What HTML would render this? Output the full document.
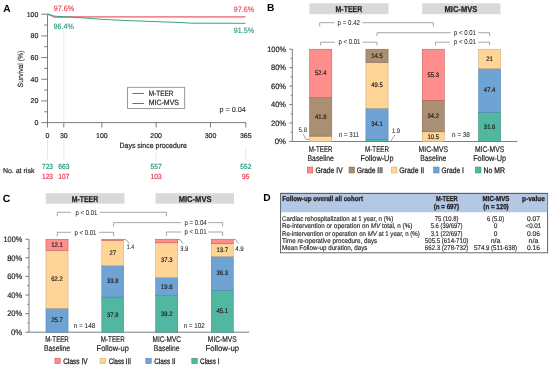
<!DOCTYPE html>
<html><head><meta charset="utf-8"><style>
html,body{margin:0;padding:0;background:#fff;}
svg{display:block;will-change:transform;}
text{font-family:"Liberation Sans", sans-serif;text-rendering:geometricPrecision;}
</style></head><body>
<svg width="550" height="367" viewBox="0 0 550 367">
<rect x="0" y="0" width="550" height="367" fill="#fff"/>
<text x="3.2" y="11.5" font-size="10.2" fill="#000" stroke="#000" stroke-width="0" font-weight="bold">A</text>
<line x1="47.5" y1="14.200000000000003" x2="47.5" y2="122.6" stroke="#6d6e71" stroke-width="0.9"/>
<line x1="41.3" y1="122.6" x2="47.5" y2="122.6" stroke="#6d6e71" stroke-width="0.9"/>
<text x="38.4" y="125.1" font-size="7.0" fill="#231f20" stroke="#231f20" stroke-width="0.2" text-anchor="end">0</text>
<line x1="44.2" y1="111.75999999999999" x2="47.5" y2="111.75999999999999" stroke="#6d6e71" stroke-width="0.9"/>
<line x1="41.3" y1="100.92" x2="47.5" y2="100.92" stroke="#6d6e71" stroke-width="0.9"/>
<text x="38.4" y="103.42" font-size="7.0" fill="#231f20" stroke="#231f20" stroke-width="0.2" text-anchor="end">20</text>
<line x1="44.2" y1="90.08" x2="47.5" y2="90.08" stroke="#6d6e71" stroke-width="0.9"/>
<line x1="41.3" y1="79.24000000000001" x2="47.5" y2="79.24000000000001" stroke="#6d6e71" stroke-width="0.9"/>
<text x="38.4" y="81.74000000000001" font-size="7.0" fill="#231f20" stroke="#231f20" stroke-width="0.2" text-anchor="end">40</text>
<line x1="44.2" y1="68.4" x2="47.5" y2="68.4" stroke="#6d6e71" stroke-width="0.9"/>
<line x1="41.3" y1="57.56" x2="47.5" y2="57.56" stroke="#6d6e71" stroke-width="0.9"/>
<text x="38.4" y="60.06" font-size="7.0" fill="#231f20" stroke="#231f20" stroke-width="0.2" text-anchor="end">60</text>
<line x1="44.2" y1="46.72" x2="47.5" y2="46.72" stroke="#6d6e71" stroke-width="0.9"/>
<line x1="41.3" y1="35.88000000000001" x2="47.5" y2="35.88000000000001" stroke="#6d6e71" stroke-width="0.9"/>
<text x="38.4" y="38.38000000000001" font-size="7.0" fill="#231f20" stroke="#231f20" stroke-width="0.2" text-anchor="end">80</text>
<line x1="44.2" y1="25.040000000000006" x2="47.5" y2="25.040000000000006" stroke="#6d6e71" stroke-width="0.9"/>
<line x1="41.3" y1="14.200000000000003" x2="47.5" y2="14.200000000000003" stroke="#6d6e71" stroke-width="0.9"/>
<text x="38.4" y="16.700000000000003" font-size="7.0" fill="#231f20" stroke="#231f20" stroke-width="0.2" text-anchor="end">100</text>
<line x1="47.5" y1="122.6" x2="245.79999999999998" y2="122.6" stroke="#6d6e71" stroke-width="0.9"/>
<line x1="47.5" y1="122.6" x2="47.5" y2="127.5" stroke="#6d6e71" stroke-width="0.9"/>
<text x="47.5" y="138.0" font-size="7.0" fill="#231f20" stroke="#231f20" stroke-width="0.2" text-anchor="middle">0</text>
<line x1="63.798630136986304" y1="122.6" x2="63.798630136986304" y2="127.5" stroke="#6d6e71" stroke-width="0.9"/>
<text x="63.798630136986304" y="138.0" font-size="7.0" fill="#231f20" stroke="#231f20" stroke-width="0.2" text-anchor="middle">30</text>
<line x1="101.82876712328766" y1="122.6" x2="101.82876712328766" y2="127.5" stroke="#6d6e71" stroke-width="0.9"/>
<text x="101.82876712328766" y="138.0" font-size="7.0" fill="#231f20" stroke="#231f20" stroke-width="0.2" text-anchor="middle">100</text>
<line x1="156.15753424657532" y1="122.6" x2="156.15753424657532" y2="127.5" stroke="#6d6e71" stroke-width="0.9"/>
<text x="156.15753424657532" y="138.0" font-size="7.0" fill="#231f20" stroke="#231f20" stroke-width="0.2" text-anchor="middle">200</text>
<line x1="210.486301369863" y1="122.6" x2="210.486301369863" y2="127.5" stroke="#6d6e71" stroke-width="0.9"/>
<text x="210.486301369863" y="138.0" font-size="7.0" fill="#231f20" stroke="#231f20" stroke-width="0.2" text-anchor="middle">300</text>
<line x1="245.79999999999998" y1="122.6" x2="245.79999999999998" y2="127.5" stroke="#6d6e71" stroke-width="0.9"/>
<text x="245.79999999999998" y="138.0" font-size="7.0" fill="#231f20" stroke="#231f20" stroke-width="0.2" text-anchor="middle">365</text>
<text x="119.5" y="148.2" font-size="7.6" fill="#231f20" stroke="#231f20" stroke-width="0.2" textLength="67.4" lengthAdjust="spacingAndGlyphs">Days since procedure</text>
<text transform="translate(23.4,69) rotate(-90)" font-size="7.6" fill="#231f20" stroke="#231f20" stroke-width="0.15" text-anchor="middle" textLength="36.8" lengthAdjust="spacingAndGlyphs">Survival (%)</text>
<line x1="63.798630136986304" y1="29" x2="63.798630136986304" y2="122.6" stroke="#dedfe0" stroke-width="0.6"/>
<polyline points="47.3,14.4 50,14.9 52,16.0 54.5,17.1 63,17.1 70,16.9 245.5,16.9" fill="none" stroke="#f28a91" stroke-width="1.6"/>
<polyline points="47.3,14.2 50,14.6 52.5,15.6 55,16.2 63.6,16.7 80,17.6 100,19.2 123,20.4 160,21.8 180,22.5 192,23.2 245.5,23.3" fill="none" stroke="#2a9678" stroke-width="0.9"/>
<text x="53.7" y="11.3" font-size="7.8" fill="#e63a4c" stroke="#e63a4c" stroke-width="0.1" textLength="20.6" lengthAdjust="spacingAndGlyphs">97.6%</text>
<text x="53.6" y="29.3" font-size="7.8" fill="#26957a" stroke="#26957a" stroke-width="0.1" textLength="20.3" lengthAdjust="spacingAndGlyphs">96.4%</text>
<text x="233.7" y="12.3" font-size="7.8" fill="#e63a4c" stroke="#e63a4c" stroke-width="0.1" textLength="20.4" lengthAdjust="spacingAndGlyphs">97.6%</text>
<text x="233.7" y="33.0" font-size="7.8" fill="#26957a" stroke="#26957a" stroke-width="0.1" textLength="20.4" lengthAdjust="spacingAndGlyphs">91.5%</text>
<rect x="127.6" y="87.3" width="57.1" height="21.1" fill="#fff" stroke="#808285" stroke-width="0.8"/>
<line x1="132.4" y1="93.5" x2="144" y2="93.5" stroke="#26957a" stroke-width="1.0"/>
<line x1="132.4" y1="103.5" x2="144" y2="103.5" stroke="#e63a4c" stroke-width="1.0"/>
<text x="148.8" y="95.9" font-size="7.6" fill="#231f20" stroke="#231f20" stroke-width="0.2" textLength="24.7" lengthAdjust="spacingAndGlyphs">M-TEER</text>
<text x="148.8" y="105.1" font-size="7.6" fill="#231f20" stroke="#231f20" stroke-width="0.2" textLength="30.1" lengthAdjust="spacingAndGlyphs">MIC-MVS</text>
<text x="245.8" y="112.2" font-size="7.2" fill="#231f20" stroke="#231f20" stroke-width="0.1" text-anchor="end" textLength="26.4" lengthAdjust="spacingAndGlyphs">p = 0.04</text>
<line x1="47.5" y1="140.5" x2="47.5" y2="159.4" stroke="#9a9b9d" stroke-width="0.5" stroke-dasharray="0.8,0.8"/>
<line x1="63.798630136986304" y1="140.5" x2="63.798630136986304" y2="159.4" stroke="#9a9b9d" stroke-width="0.5" stroke-dasharray="0.8,0.8"/>
<line x1="156.15753424657532" y1="153.4" x2="156.15753424657532" y2="160.5" stroke="#9a9b9d" stroke-width="0.5" stroke-dasharray="0.8,0.8"/>
<line x1="245.79999999999998" y1="147.5" x2="245.79999999999998" y2="160" stroke="#9a9b9d" stroke-width="0.5" stroke-dasharray="0.8,0.8"/>
<text x="2.9" y="173.0" font-size="7.0" fill="#231f20" stroke="#231f20" stroke-width="0.2" textLength="31.5" lengthAdjust="spacingAndGlyphs">No. at risk</text>
<text x="47.5" y="169.2" font-size="7.4" fill="#26957a" stroke="#26957a" stroke-width="0.2" text-anchor="middle" textLength="11.100000000000001" lengthAdjust="spacingAndGlyphs">723</text>
<text x="47.5" y="179.3" font-size="7.4" fill="#e63a4c" stroke="#e63a4c" stroke-width="0.2" text-anchor="middle" textLength="11.100000000000001" lengthAdjust="spacingAndGlyphs">123</text>
<text x="63.798630136986304" y="169.2" font-size="7.4" fill="#26957a" stroke="#26957a" stroke-width="0.2" text-anchor="middle" textLength="11.100000000000001" lengthAdjust="spacingAndGlyphs">663</text>
<text x="63.798630136986304" y="179.3" font-size="7.4" fill="#e63a4c" stroke="#e63a4c" stroke-width="0.2" text-anchor="middle" textLength="11.100000000000001" lengthAdjust="spacingAndGlyphs">107</text>
<text x="156.15753424657532" y="169.2" font-size="7.4" fill="#26957a" stroke="#26957a" stroke-width="0.2" text-anchor="middle" textLength="11.100000000000001" lengthAdjust="spacingAndGlyphs">557</text>
<text x="156.15753424657532" y="179.3" font-size="7.4" fill="#e63a4c" stroke="#e63a4c" stroke-width="0.2" text-anchor="middle" textLength="11.100000000000001" lengthAdjust="spacingAndGlyphs">103</text>
<text x="245.79999999999998" y="169.2" font-size="7.4" fill="#26957a" stroke="#26957a" stroke-width="0.2" text-anchor="middle" textLength="11.100000000000001" lengthAdjust="spacingAndGlyphs">552</text>
<text x="245.79999999999998" y="179.3" font-size="7.4" fill="#e63a4c" stroke="#e63a4c" stroke-width="0.2" text-anchor="middle" textLength="7.4" lengthAdjust="spacingAndGlyphs">95</text>
<text x="267" y="11.4" font-size="10.2" fill="#000" stroke="#000" stroke-width="0" font-weight="bold">B</text>
<rect x="309.5" y="3.3" width="79" height="10.9" fill="#d9d9da"/>
<rect x="422.2" y="3.3" width="78.2" height="10.9" fill="#d9d9da"/>
<text x="348.9" y="11.9" font-size="8.5" fill="#231f20" stroke="#231f20" stroke-width="0.25" text-anchor="middle" font-weight="bold" textLength="26.7" lengthAdjust="spacingAndGlyphs">M-TEER</text>
<text x="460.9" y="11.9" font-size="8.5" fill="#231f20" stroke="#231f20" stroke-width="0.25" text-anchor="middle" font-weight="bold" textLength="32.8" lengthAdjust="spacingAndGlyphs">MIC-MVS</text>
<line x1="292.3" y1="49.2" x2="292.3" y2="141.5" stroke="#6d6e71" stroke-width="0.9"/>
<line x1="289.3" y1="141.5" x2="292.3" y2="141.5" stroke="#6d6e71" stroke-width="0.9"/>
<text x="286" y="144.2" font-size="7.8" fill="#231f20" stroke="#231f20" stroke-width="0.2" text-anchor="end" textLength="11.3" lengthAdjust="spacingAndGlyphs">0%</text>
<line x1="290.7" y1="132.27" x2="292.3" y2="132.27" stroke="#6d6e71" stroke-width="0.9"/>
<line x1="289.3" y1="123.04" x2="292.3" y2="123.04" stroke="#6d6e71" stroke-width="0.9"/>
<text x="286" y="125.74000000000001" font-size="7.8" fill="#231f20" stroke="#231f20" stroke-width="0.2" text-anchor="end" textLength="15.0" lengthAdjust="spacingAndGlyphs">20%</text>
<line x1="290.7" y1="113.81" x2="292.3" y2="113.81" stroke="#6d6e71" stroke-width="0.9"/>
<line x1="289.3" y1="104.58000000000001" x2="292.3" y2="104.58000000000001" stroke="#6d6e71" stroke-width="0.9"/>
<text x="286" y="107.28000000000002" font-size="7.8" fill="#231f20" stroke="#231f20" stroke-width="0.2" text-anchor="end" textLength="15.0" lengthAdjust="spacingAndGlyphs">40%</text>
<line x1="290.7" y1="95.35" x2="292.3" y2="95.35" stroke="#6d6e71" stroke-width="0.9"/>
<line x1="289.3" y1="86.12" x2="292.3" y2="86.12" stroke="#6d6e71" stroke-width="0.9"/>
<text x="286" y="88.82000000000001" font-size="7.8" fill="#231f20" stroke="#231f20" stroke-width="0.2" text-anchor="end" textLength="15.0" lengthAdjust="spacingAndGlyphs">60%</text>
<line x1="290.7" y1="76.89" x2="292.3" y2="76.89" stroke="#6d6e71" stroke-width="0.9"/>
<line x1="289.3" y1="67.66000000000001" x2="292.3" y2="67.66000000000001" stroke="#6d6e71" stroke-width="0.9"/>
<text x="286" y="70.36000000000001" font-size="7.8" fill="#231f20" stroke="#231f20" stroke-width="0.2" text-anchor="end" textLength="15.0" lengthAdjust="spacingAndGlyphs">80%</text>
<line x1="290.7" y1="58.43000000000001" x2="292.3" y2="58.43000000000001" stroke="#6d6e71" stroke-width="0.9"/>
<line x1="289.3" y1="49.2" x2="292.3" y2="49.2" stroke="#6d6e71" stroke-width="0.9"/>
<text x="286" y="51.900000000000006" font-size="7.8" fill="#231f20" stroke="#231f20" stroke-width="0.2" text-anchor="end" textLength="18.700000000000003" lengthAdjust="spacingAndGlyphs">100%</text>
<line x1="292.3" y1="141.5" x2="517.3" y2="141.5" stroke="#6d6e71" stroke-width="0.9"/>
<rect x="309.59999999999997" y="136.1466" width="22.2" height="5.3533999999999935" fill="#fed497" stroke="#caa670" stroke-width="0.5"/>
<rect x="309.59999999999997" y="97.5652" width="22.2" height="38.5814" fill="#ab8f72" stroke="#7d654f" stroke-width="0.5"/>
<text x="320.7" y="118.75590000000001" font-size="6.6" fill="#231f20" stroke="#231f20" stroke-width="0.2" text-anchor="middle" textLength="11.5" lengthAdjust="spacingAndGlyphs">41.8</text>
<rect x="309.59999999999997" y="49.2" width="22.2" height="48.3652" fill="#fd8e8c" stroke="#c4504f" stroke-width="0.5"/>
<text x="320.7" y="75.2826" font-size="6.6" fill="#231f20" stroke="#231f20" stroke-width="0.2" text-anchor="middle" textLength="11.5" lengthAdjust="spacingAndGlyphs">52.4</text>
<rect x="365.9" y="139.7463" width="22.2" height="1.7537000000000091" fill="#52b7a0" stroke="#2f8a78" stroke-width="0.5"/>
<rect x="365.9" y="108.272" width="22.2" height="31.474299999999985" fill="#6ea3d3" stroke="#4d7fae" stroke-width="0.5"/>
<text x="377.0" y="125.90915000000001" font-size="6.6" fill="#231f20" stroke="#231f20" stroke-width="0.2" text-anchor="middle" textLength="11.5" lengthAdjust="spacingAndGlyphs">34.1</text>
<rect x="365.9" y="62.5835" width="22.2" height="45.688500000000005" fill="#fed497" stroke="#caa670" stroke-width="0.5"/>
<text x="377.0" y="87.32775000000001" font-size="6.6" fill="#231f20" stroke="#231f20" stroke-width="0.2" text-anchor="middle" textLength="11.5" lengthAdjust="spacingAndGlyphs">49.5</text>
<rect x="365.9" y="49.2" width="22.2" height="13.383499999999998" fill="#ab8f72" stroke="#7d654f" stroke-width="0.5"/>
<text x="377.0" y="57.79175" font-size="6.6" fill="#231f20" stroke="#231f20" stroke-width="0.2" text-anchor="middle" textLength="11.5" lengthAdjust="spacingAndGlyphs">14.5</text>
<rect x="422.2" y="131.8085" width="22.2" height="9.69149999999999" fill="#fed497" stroke="#caa670" stroke-width="0.5"/>
<text x="433.3" y="138.55425" font-size="6.6" fill="#231f20" stroke="#231f20" stroke-width="0.2" text-anchor="middle" textLength="11.5" lengthAdjust="spacingAndGlyphs">10.5</text>
<rect x="422.2" y="100.2419" width="22.2" height="31.566600000000008" fill="#ab8f72" stroke="#7d654f" stroke-width="0.5"/>
<text x="433.3" y="117.92520000000002" font-size="6.6" fill="#231f20" stroke="#231f20" stroke-width="0.2" text-anchor="middle" textLength="11.5" lengthAdjust="spacingAndGlyphs">34.2</text>
<rect x="422.2" y="49.2" width="22.2" height="51.0419" fill="#fd8e8c" stroke="#c4504f" stroke-width="0.5"/>
<text x="433.3" y="76.62095000000001" font-size="6.6" fill="#231f20" stroke="#231f20" stroke-width="0.2" text-anchor="middle" textLength="11.5" lengthAdjust="spacingAndGlyphs">55.3</text>
<rect x="478.5" y="112.3332" width="22.2" height="29.166799999999995" fill="#52b7a0" stroke="#2f8a78" stroke-width="0.5"/>
<text x="489.6" y="128.8166" font-size="6.6" fill="#231f20" stroke="#231f20" stroke-width="0.2" text-anchor="middle" textLength="11.5" lengthAdjust="spacingAndGlyphs">31.6</text>
<rect x="478.5" y="68.583" width="22.2" height="43.75020000000001" fill="#6ea3d3" stroke="#4d7fae" stroke-width="0.5"/>
<text x="489.6" y="92.35810000000001" font-size="6.6" fill="#231f20" stroke="#231f20" stroke-width="0.2" text-anchor="middle" textLength="11.5" lengthAdjust="spacingAndGlyphs">47.4</text>
<rect x="478.5" y="49.2" width="22.2" height="19.382999999999996" fill="#fed497" stroke="#caa670" stroke-width="0.5"/>
<text x="489.6" y="60.7915" font-size="6.6" fill="#231f20" stroke="#231f20" stroke-width="0.2" text-anchor="middle" textLength="6.6" lengthAdjust="spacingAndGlyphs">21</text>
<text x="302.8" y="131.7" font-size="6.6" fill="#231f20" stroke="#231f20" stroke-width="0.05" text-anchor="middle" textLength="8.4" lengthAdjust="spacingAndGlyphs">5.8</text>
<path d="M303.1,133.8 L305.8,139.3 L309.3,139.3" stroke="#58595b" stroke-width="0.55" fill="none"/>
<text x="396" y="132.6" font-size="6.6" fill="#231f20" stroke="#231f20" stroke-width="0.05" text-anchor="middle" textLength="8.2" lengthAdjust="spacingAndGlyphs">1.9</text>
<path d="M394.9,134.9 L390.7,141.2" stroke="#58595b" stroke-width="0.55" fill="none"/>
<text x="349" y="137.0" font-size="7.0" fill="#231f20" stroke="#231f20" stroke-width="0.08" text-anchor="middle" textLength="20" lengthAdjust="spacingAndGlyphs">n = 311</text>
<text x="461" y="136.9" font-size="7.0" fill="#231f20" stroke="#231f20" stroke-width="0.08" text-anchor="middle" textLength="17.8" lengthAdjust="spacingAndGlyphs">n = 38</text>
<text x="320.7" y="151.6" font-size="8.2" fill="#231f20" stroke="#231f20" stroke-width="0.2" text-anchor="middle" textLength="23.8" lengthAdjust="spacingAndGlyphs">M-TEER</text>
<text x="320.7" y="161.0" font-size="8.2" fill="#231f20" stroke="#231f20" stroke-width="0.2" text-anchor="middle" textLength="26.3" lengthAdjust="spacingAndGlyphs">Baseline</text>
<text x="377.0" y="151.6" font-size="8.2" fill="#231f20" stroke="#231f20" stroke-width="0.2" text-anchor="middle" textLength="23.8" lengthAdjust="spacingAndGlyphs">M-TEER</text>
<text x="377.0" y="161.0" font-size="8.2" fill="#231f20" stroke="#231f20" stroke-width="0.2" text-anchor="middle" textLength="33" lengthAdjust="spacingAndGlyphs">Follow-Up</text>
<text x="433.3" y="151.6" font-size="8.2" fill="#231f20" stroke="#231f20" stroke-width="0.2" text-anchor="middle" textLength="29.4" lengthAdjust="spacingAndGlyphs">MIC-MVS</text>
<text x="433.3" y="161.0" font-size="8.2" fill="#231f20" stroke="#231f20" stroke-width="0.2" text-anchor="middle" textLength="26.3" lengthAdjust="spacingAndGlyphs">Baseline</text>
<text x="489.6" y="151.6" font-size="8.2" fill="#231f20" stroke="#231f20" stroke-width="0.2" text-anchor="middle" textLength="29.4" lengthAdjust="spacingAndGlyphs">MIC-MVS</text>
<text x="489.6" y="161.0" font-size="8.2" fill="#231f20" stroke="#231f20" stroke-width="0.2" text-anchor="middle" textLength="32.9" lengthAdjust="spacingAndGlyphs">Follow-Up</text>
<path d="M319.7,26.599999999999998 L319.7,22.7 L334.5,22.7 M362.2,22.7 L433.3,22.7 L433.3,26.599999999999998" stroke="#808285" stroke-width="0.7" fill="none"/>
<text x="348.8" y="24.9" font-size="7.0" fill="#231f20" stroke="#231f20" stroke-width="0.05" text-anchor="middle" textLength="22.4" lengthAdjust="spacingAndGlyphs">p = 0.42</text>
<path d="M377.0,36.2 L377.0,32.7 L450.9,32.7 M478.2,32.7 L489.6,32.7 L489.6,36.2" stroke="#808285" stroke-width="0.7" fill="none"/>
<text x="464.9" y="34.9" font-size="7.0" fill="#231f20" stroke="#231f20" stroke-width="0.05" text-anchor="middle" textLength="21.8" lengthAdjust="spacingAndGlyphs">p &lt; 0.01</text>
<path d="M320.7,45.5 L320.7,42.2 L335,42.2 M362.7,42.2 L377.0,42.2 L377.0,45.5" stroke="#808285" stroke-width="0.7" fill="none"/>
<text x="349.4" y="44.4" font-size="7.0" fill="#231f20" stroke="#231f20" stroke-width="0.05" text-anchor="middle" textLength="21.9" lengthAdjust="spacingAndGlyphs">p &lt; 0.01</text>
<path d="M435.5,45.5 L435.5,42.2 L450,42.2 M478.2,42.2 L489.6,42.2 L489.6,45.5" stroke="#808285" stroke-width="0.7" fill="none"/>
<text x="464.9" y="44.4" font-size="7.0" fill="#231f20" stroke="#231f20" stroke-width="0.05" text-anchor="middle" textLength="21.8" lengthAdjust="spacingAndGlyphs">p &lt; 0.01</text>
<rect x="307.3" y="167.0" width="5.6" height="6.0" fill="#fd8e8c" stroke="#c4504f" stroke-width="0.5"/>
<text x="315.5" y="172.7" font-size="8.0" fill="#231f20" stroke="#231f20" stroke-width="0.28" textLength="27.2" lengthAdjust="spacingAndGlyphs">Grade IV</text>
<rect x="349" y="167.0" width="5.6" height="6.0" fill="#ab8f72" stroke="#7d654f" stroke-width="0.5"/>
<text x="356.7" y="172.7" font-size="8.0" fill="#231f20" stroke="#231f20" stroke-width="0.28" textLength="26.3" lengthAdjust="spacingAndGlyphs">Grade III</text>
<rect x="391.4" y="167.0" width="5.6" height="6.0" fill="#fed497" stroke="#caa670" stroke-width="0.5"/>
<text x="399.2" y="172.7" font-size="8.0" fill="#231f20" stroke="#231f20" stroke-width="0.28" textLength="25.1" lengthAdjust="spacingAndGlyphs">Grade II</text>
<rect x="433.5" y="167.0" width="5.6" height="6.0" fill="#6ea3d3" stroke="#4d7fae" stroke-width="0.5"/>
<text x="441.6" y="172.7" font-size="8.0" fill="#231f20" stroke="#231f20" stroke-width="0.28" textLength="22.4" lengthAdjust="spacingAndGlyphs">Grade I</text>
<rect x="475.4" y="167.0" width="5.6" height="6.0" fill="#52b7a0" stroke="#2f8a78" stroke-width="0.5"/>
<text x="483.6" y="172.7" font-size="8.0" fill="#231f20" stroke="#231f20" stroke-width="0.28" textLength="21.4" lengthAdjust="spacingAndGlyphs">No MR</text>
<text x="2.8" y="201.6" font-size="10.4" fill="#000" stroke="#000" stroke-width="0" font-weight="bold">C</text>
<rect x="45.8" y="193.2" width="78.7" height="10.5" fill="#d9d9da"/>
<rect x="155.5" y="193.2" width="78.5" height="10.5" fill="#d9d9da"/>
<text x="85.0" y="201.6" font-size="8.5" fill="#231f20" stroke="#231f20" stroke-width="0.25" text-anchor="middle" font-weight="bold" textLength="26.4" lengthAdjust="spacingAndGlyphs">M-TEER</text>
<text x="195.1" y="201.6" font-size="8.5" fill="#231f20" stroke="#231f20" stroke-width="0.25" text-anchor="middle" font-weight="bold" textLength="32.8" lengthAdjust="spacingAndGlyphs">MIC-MVS</text>
<line x1="29.0" y1="239.2" x2="29.0" y2="332.2" stroke="#6d6e71" stroke-width="0.9"/>
<line x1="25.4" y1="332.2" x2="29.0" y2="332.2" stroke="#6d6e71" stroke-width="0.9"/>
<text x="22.2" y="335.0" font-size="8.0" fill="#231f20" stroke="#231f20" stroke-width="0.2" text-anchor="end" textLength="11.3" lengthAdjust="spacingAndGlyphs">0%</text>
<line x1="27.3" y1="322.9" x2="29.0" y2="322.9" stroke="#6d6e71" stroke-width="0.9"/>
<line x1="25.4" y1="313.59999999999997" x2="29.0" y2="313.59999999999997" stroke="#6d6e71" stroke-width="0.9"/>
<text x="22.2" y="316.4" font-size="8.0" fill="#231f20" stroke="#231f20" stroke-width="0.2" text-anchor="end" textLength="15.0" lengthAdjust="spacingAndGlyphs">20%</text>
<line x1="27.3" y1="304.3" x2="29.0" y2="304.3" stroke="#6d6e71" stroke-width="0.9"/>
<line x1="25.4" y1="295.0" x2="29.0" y2="295.0" stroke="#6d6e71" stroke-width="0.9"/>
<text x="22.2" y="297.8" font-size="8.0" fill="#231f20" stroke="#231f20" stroke-width="0.2" text-anchor="end" textLength="15.0" lengthAdjust="spacingAndGlyphs">40%</text>
<line x1="27.3" y1="285.7" x2="29.0" y2="285.7" stroke="#6d6e71" stroke-width="0.9"/>
<line x1="25.4" y1="276.4" x2="29.0" y2="276.4" stroke="#6d6e71" stroke-width="0.9"/>
<text x="22.2" y="279.2" font-size="8.0" fill="#231f20" stroke="#231f20" stroke-width="0.2" text-anchor="end" textLength="15.0" lengthAdjust="spacingAndGlyphs">60%</text>
<line x1="27.3" y1="267.09999999999997" x2="29.0" y2="267.09999999999997" stroke="#6d6e71" stroke-width="0.9"/>
<line x1="25.4" y1="257.79999999999995" x2="29.0" y2="257.79999999999995" stroke="#6d6e71" stroke-width="0.9"/>
<text x="22.2" y="260.59999999999997" font-size="8.0" fill="#231f20" stroke="#231f20" stroke-width="0.2" text-anchor="end" textLength="15.0" lengthAdjust="spacingAndGlyphs">80%</text>
<line x1="27.3" y1="248.5" x2="29.0" y2="248.5" stroke="#6d6e71" stroke-width="0.9"/>
<line x1="25.4" y1="239.2" x2="29.0" y2="239.2" stroke="#6d6e71" stroke-width="0.9"/>
<text x="22.2" y="242.0" font-size="8.0" fill="#231f20" stroke="#231f20" stroke-width="0.2" text-anchor="end" textLength="18.700000000000003" lengthAdjust="spacingAndGlyphs">100%</text>
<line x1="29.0" y1="332.2" x2="249.2" y2="332.2" stroke="#6d6e71" stroke-width="0.9"/>
<rect x="45.95" y="308.299" width="22.1" height="23.90100000000001" fill="#6ea3d3" stroke="#4d7fae" stroke-width="0.5"/>
<text x="57.0" y="322.1495" font-size="6.6" fill="#231f20" stroke="#231f20" stroke-width="0.2" text-anchor="middle" textLength="11.5" lengthAdjust="spacingAndGlyphs">25.7</text>
<rect x="45.95" y="250.45299999999997" width="22.1" height="57.846000000000004" fill="#fed497" stroke="#caa670" stroke-width="0.5"/>
<text x="57.0" y="281.27599999999995" font-size="6.6" fill="#231f20" stroke="#231f20" stroke-width="0.2" text-anchor="middle" textLength="11.5" lengthAdjust="spacingAndGlyphs">62.2</text>
<rect x="45.95" y="239.2" width="22.1" height="11.252999999999986" fill="#fd8e8c" stroke="#c4504f" stroke-width="0.5"/>
<text x="57.0" y="246.7265" font-size="6.6" fill="#231f20" stroke="#231f20" stroke-width="0.2" text-anchor="middle" textLength="11.5" lengthAdjust="spacingAndGlyphs">12.1</text>
<rect x="101.8" y="297.046" width="21.9" height="35.153999999999996" fill="#52b7a0" stroke="#2f8a78" stroke-width="0.5"/>
<text x="112.75" y="316.52299999999997" font-size="6.6" fill="#231f20" stroke="#231f20" stroke-width="0.2" text-anchor="middle" textLength="11.5" lengthAdjust="spacingAndGlyphs">37.8</text>
<rect x="101.8" y="265.61199999999997" width="21.9" height="31.434000000000026" fill="#6ea3d3" stroke="#4d7fae" stroke-width="0.5"/>
<text x="112.75" y="283.2289999999999" font-size="6.6" fill="#231f20" stroke="#231f20" stroke-width="0.2" text-anchor="middle" textLength="11.5" lengthAdjust="spacingAndGlyphs">33.8</text>
<rect x="101.8" y="240.502" width="21.9" height="25.109999999999957" fill="#fed497" stroke="#caa670" stroke-width="0.5"/>
<text x="112.75" y="254.957" font-size="6.6" fill="#231f20" stroke="#231f20" stroke-width="0.2" text-anchor="middle" textLength="6.6" lengthAdjust="spacingAndGlyphs">27</text>
<rect x="101.8" y="239.2" width="21.9" height="1.302000000000021" fill="#fd8e8c" stroke="#c4504f" stroke-width="0.5"/>
<rect x="155.64999999999998" y="295.74399999999997" width="22.1" height="36.45600000000002" fill="#52b7a0" stroke="#2f8a78" stroke-width="0.5"/>
<text x="166.7" y="315.87199999999996" font-size="6.6" fill="#231f20" stroke="#231f20" stroke-width="0.2" text-anchor="middle" textLength="11.5" lengthAdjust="spacingAndGlyphs">39.2</text>
<rect x="155.64999999999998" y="277.51599999999996" width="22.1" height="18.22800000000001" fill="#6ea3d3" stroke="#4d7fae" stroke-width="0.5"/>
<text x="166.7" y="288.53" font-size="6.6" fill="#231f20" stroke="#231f20" stroke-width="0.2" text-anchor="middle" textLength="11.5" lengthAdjust="spacingAndGlyphs">19.6</text>
<rect x="155.64999999999998" y="242.827" width="22.1" height="34.688999999999965" fill="#fed497" stroke="#caa670" stroke-width="0.5"/>
<text x="166.7" y="262.07149999999996" font-size="6.6" fill="#231f20" stroke="#231f20" stroke-width="0.2" text-anchor="middle" textLength="11.5" lengthAdjust="spacingAndGlyphs">37.3</text>
<rect x="155.64999999999998" y="239.2" width="22.1" height="3.6270000000000095" fill="#fd8e8c" stroke="#c4504f" stroke-width="0.5"/>
<rect x="211.25" y="290.257" width="22.1" height="41.942999999999984" fill="#52b7a0" stroke="#2f8a78" stroke-width="0.5"/>
<text x="222.3" y="313.1285" font-size="6.6" fill="#231f20" stroke="#231f20" stroke-width="0.2" text-anchor="middle" textLength="11.5" lengthAdjust="spacingAndGlyphs">45.1</text>
<rect x="211.25" y="256.498" width="22.1" height="33.759000000000015" fill="#6ea3d3" stroke="#4d7fae" stroke-width="0.5"/>
<text x="222.3" y="275.2775" font-size="6.6" fill="#231f20" stroke="#231f20" stroke-width="0.2" text-anchor="middle" textLength="11.5" lengthAdjust="spacingAndGlyphs">36.3</text>
<rect x="211.25" y="243.75699999999998" width="22.1" height="12.741000000000014" fill="#fed497" stroke="#caa670" stroke-width="0.5"/>
<text x="222.3" y="252.0275" font-size="6.6" fill="#231f20" stroke="#231f20" stroke-width="0.2" text-anchor="middle" textLength="11.5" lengthAdjust="spacingAndGlyphs">13.7</text>
<rect x="211.25" y="239.2" width="22.1" height="4.556999999999988" fill="#fd8e8c" stroke="#c4504f" stroke-width="0.5"/>
<text x="130.5" y="249.0" font-size="6.4" fill="#231f20" stroke="#231f20" stroke-width="0.05" text-anchor="middle" textLength="7.3" lengthAdjust="spacingAndGlyphs">1.4</text>
<path d="M123.9,239.6 L125.8,239.6 L129.5,243.6" stroke="#58595b" stroke-width="0.6" fill="none"/>
<text x="184.2" y="251.0" font-size="6.8" fill="#231f20" stroke="#231f20" stroke-width="0.08" text-anchor="middle" textLength="8" lengthAdjust="spacingAndGlyphs">3.9</text>
<path d="M178,239.6 L180,239.6 L183,243.5" stroke="#58595b" stroke-width="0.6" fill="none"/>
<text x="239.4" y="251.0" font-size="6.8" fill="#231f20" stroke="#231f20" stroke-width="0.08" text-anchor="middle" textLength="8.4" lengthAdjust="spacingAndGlyphs">4.9</text>
<path d="M233.7,239.6 L235.5,239.6 L238.5,243.5" stroke="#58595b" stroke-width="0.6" fill="none"/>
<text x="84.5" y="328.2" font-size="7.0" fill="#231f20" stroke="#231f20" stroke-width="0.08" text-anchor="middle" textLength="21.6" lengthAdjust="spacingAndGlyphs">n = 148</text>
<text x="194.2" y="328.1" font-size="7.0" fill="#231f20" stroke="#231f20" stroke-width="0.08" text-anchor="middle" textLength="21.1" lengthAdjust="spacingAndGlyphs">n = 102</text>
<text x="57.0" y="342.3" font-size="8.2" fill="#231f20" stroke="#231f20" stroke-width="0.2" text-anchor="middle" textLength="23.6" lengthAdjust="spacingAndGlyphs">M-TEER</text>
<text x="57.0" y="351.4" font-size="8.2" fill="#231f20" stroke="#231f20" stroke-width="0.2" text-anchor="middle" textLength="26.2" lengthAdjust="spacingAndGlyphs">Baseline</text>
<text x="112.75" y="342.3" font-size="8.2" fill="#231f20" stroke="#231f20" stroke-width="0.2" text-anchor="middle" textLength="23.8" lengthAdjust="spacingAndGlyphs">M-TEER</text>
<text x="112.75" y="351.4" font-size="8.2" fill="#231f20" stroke="#231f20" stroke-width="0.2" text-anchor="middle" textLength="32.3" lengthAdjust="spacingAndGlyphs">Follow-up</text>
<text x="166.7" y="342.3" font-size="8.2" fill="#231f20" stroke="#231f20" stroke-width="0.2" text-anchor="middle" textLength="28.4" lengthAdjust="spacingAndGlyphs">MIC-MVC</text>
<text x="166.7" y="351.4" font-size="8.2" fill="#231f20" stroke="#231f20" stroke-width="0.2" text-anchor="middle" textLength="25.8" lengthAdjust="spacingAndGlyphs">Baseline</text>
<text x="222.3" y="342.3" font-size="8.2" fill="#231f20" stroke="#231f20" stroke-width="0.2" text-anchor="middle" textLength="28.9" lengthAdjust="spacingAndGlyphs">MIC-MVS</text>
<text x="222.3" y="351.4" font-size="8.2" fill="#231f20" stroke="#231f20" stroke-width="0.2" text-anchor="middle" textLength="33.8" lengthAdjust="spacingAndGlyphs">Follow-up</text>
<path d="M57.3,216.3 L57.3,212.3 L70.9,212.3 M100,212.3 L166.4,212.3 L166.4,216.3" stroke="#808285" stroke-width="0.7" fill="none"/>
<text x="86.4" y="214.5" font-size="7.0" fill="#231f20" stroke="#231f20" stroke-width="0.05" text-anchor="middle" textLength="21.8" lengthAdjust="spacingAndGlyphs">p &lt; 0.01</text>
<path d="M113.6,226.5 L113.6,222.6 L180.9,222.6 M208.2,222.6 L222.6,222.6 L222.6,226.5" stroke="#808285" stroke-width="0.7" fill="none"/>
<text x="195.6" y="224.8" font-size="7.0" fill="#231f20" stroke="#231f20" stroke-width="0.05" text-anchor="middle" textLength="22.2" lengthAdjust="spacingAndGlyphs">p = 0.04</text>
<path d="M57.3,236.3 L57.3,232.3 L70.9,232.3 M99,232.3 L113.6,232.3 L113.6,236.3" stroke="#808285" stroke-width="0.7" fill="none"/>
<text x="85.5" y="234.5" font-size="7.0" fill="#231f20" stroke="#231f20" stroke-width="0.05" text-anchor="middle" textLength="21.9" lengthAdjust="spacingAndGlyphs">p &lt; 0.01</text>
<path d="M166.4,236.0 L166.4,232.0 L180.9,232.0 M208.2,232.0 L222.6,232.0 L222.6,236.0" stroke="#808285" stroke-width="0.7" fill="none"/>
<text x="195.5" y="234.3" font-size="7.0" fill="#231f20" stroke="#231f20" stroke-width="0.05" text-anchor="middle" textLength="22" lengthAdjust="spacingAndGlyphs">p &lt; 0.01</text>
<rect x="54.9" y="358.2" width="5.5" height="5.4" fill="#fd8e8c" stroke="#c4504f" stroke-width="0.5"/>
<text x="63.3" y="363.6" font-size="8.0" fill="#231f20" stroke="#231f20" stroke-width="0.28" textLength="24.3" lengthAdjust="spacingAndGlyphs">Class IV</text>
<rect x="100" y="358.2" width="5.5" height="5.4" fill="#fed497" stroke="#caa670" stroke-width="0.5"/>
<text x="108.7" y="363.6" font-size="8.0" fill="#231f20" stroke="#231f20" stroke-width="0.28" textLength="22.2" lengthAdjust="spacingAndGlyphs">Class III</text>
<rect x="145.8" y="358.2" width="5.5" height="5.4" fill="#6ea3d3" stroke="#4d7fae" stroke-width="0.5"/>
<text x="154.2" y="363.6" font-size="8.0" fill="#231f20" stroke="#231f20" stroke-width="0.28" textLength="21.3" lengthAdjust="spacingAndGlyphs">Class II</text>
<rect x="191.8" y="358.2" width="5.5" height="5.4" fill="#52b7a0" stroke="#2f8a78" stroke-width="0.5"/>
<text x="200" y="363.6" font-size="8.0" fill="#231f20" stroke="#231f20" stroke-width="0.28" textLength="19.6" lengthAdjust="spacingAndGlyphs">Class I</text>
<text x="263.3" y="201.4" font-size="10.2" fill="#000" stroke="#000" stroke-width="0" font-weight="bold">D</text>
<rect x="280.5" y="193.4" width="267.1" height="59.4" fill="#fff" stroke="#58595b" stroke-width="0.9"/>
<rect x="280.9" y="193.8" width="266.3" height="18.4" fill="#b3c8e5"/>
<line x1="280.5" y1="193.4" x2="547.6" y2="193.4" stroke="#58595b" stroke-width="0.9"/>
<text x="282.2" y="201.2" font-size="7.2" fill="#231f20" stroke="#231f20" stroke-width="0.3" font-weight="bold" textLength="80.8" lengthAdjust="spacingAndGlyphs">Follow-up overall all cohort</text>
<text x="446.8" y="201.2" font-size="7.2" fill="#231f20" stroke="#231f20" stroke-width="0.3" text-anchor="middle" font-weight="bold" textLength="21.8" lengthAdjust="spacingAndGlyphs">M-TEER</text>
<text x="446.4" y="209.0" font-size="7.2" fill="#231f20" stroke="#231f20" stroke-width="0.3" text-anchor="middle" font-weight="bold" textLength="25.3" lengthAdjust="spacingAndGlyphs">(n = 697)</text>
<text x="496.0" y="201.2" font-size="7.2" fill="#231f20" stroke="#231f20" stroke-width="0.3" text-anchor="middle" font-weight="bold" textLength="26.8" lengthAdjust="spacingAndGlyphs">MIC-MVS</text>
<text x="496.0" y="209.0" font-size="7.2" fill="#231f20" stroke="#231f20" stroke-width="0.3" text-anchor="middle" font-weight="bold" textLength="25.3" lengthAdjust="spacingAndGlyphs">(n = 120)</text>
<text x="533.4" y="201.2" font-size="7.2" fill="#231f20" stroke="#231f20" stroke-width="0.3" text-anchor="middle" font-weight="bold" textLength="22.8" lengthAdjust="spacingAndGlyphs">p-value</text>
<text x="282.0" y="220.7" font-size="6.8" fill="#231f20" stroke="#231f20" stroke-width="0.14" textLength="111.4" lengthAdjust="spacingAndGlyphs">Cardiac rehospitalization at 1 year, n (%)</text>
<text x="446.6" y="220.7" font-size="6.8" fill="#231f20" stroke="#231f20" stroke-width="0.14" text-anchor="middle" textLength="23.6" lengthAdjust="spacingAndGlyphs">75 (10.8)</text>
<text x="495.6" y="220.7" font-size="6.8" fill="#231f20" stroke="#231f20" stroke-width="0.14" text-anchor="middle" textLength="17" lengthAdjust="spacingAndGlyphs">6 (5.0)</text>
<text x="533.4" y="220.7" font-size="6.8" fill="#231f20" stroke="#231f20" stroke-width="0.14" text-anchor="middle" textLength="13" lengthAdjust="spacingAndGlyphs">0.07</text>
<text x="282.0" y="228.1" font-size="6.8" fill="#231f20" stroke="#231f20" stroke-width="0.14" textLength="130.4" lengthAdjust="spacingAndGlyphs">Re-intervention or operation on <tspan font-style="italic">MV</tspan> total, n (%)</text>
<text x="446.6" y="228.1" font-size="6.8" fill="#231f20" stroke="#231f20" stroke-width="0.14" text-anchor="middle" textLength="31.9" lengthAdjust="spacingAndGlyphs">5.6 (39/697)</text>
<text x="495.6" y="228.1" font-size="6.8" fill="#231f20" stroke="#231f20" stroke-width="0.14" text-anchor="middle" textLength="3.6" lengthAdjust="spacingAndGlyphs">0</text>
<text x="533.4" y="228.1" font-size="6.8" fill="#231f20" stroke="#231f20" stroke-width="0.14" text-anchor="middle" textLength="15.8" lengthAdjust="spacingAndGlyphs">&lt;0.01</text>
<text x="282.0" y="235.5" font-size="6.8" fill="#231f20" stroke="#231f20" stroke-width="0.14" textLength="137.8" lengthAdjust="spacingAndGlyphs">Re-intervention or operation on <tspan font-style="italic">MV</tspan> at 1 year, n (%)</text>
<text x="446.6" y="235.5" font-size="6.8" fill="#231f20" stroke="#231f20" stroke-width="0.14" text-anchor="middle" textLength="31.9" lengthAdjust="spacingAndGlyphs">3.1 (22/697)</text>
<text x="495.6" y="235.5" font-size="6.8" fill="#231f20" stroke="#231f20" stroke-width="0.14" text-anchor="middle" textLength="3.6" lengthAdjust="spacingAndGlyphs">0</text>
<text x="533.4" y="235.5" font-size="6.8" fill="#231f20" stroke="#231f20" stroke-width="0.14" text-anchor="middle" textLength="13" lengthAdjust="spacingAndGlyphs">0.06</text>
<text x="282.0" y="242.89999999999998" font-size="6.8" fill="#231f20" stroke="#231f20" stroke-width="0.14" textLength="95.2" lengthAdjust="spacingAndGlyphs">Time re-operative procedure, days</text>
<text x="446.6" y="242.89999999999998" font-size="6.8" fill="#231f20" stroke="#231f20" stroke-width="0.14" text-anchor="middle" textLength="43.5" lengthAdjust="spacingAndGlyphs">505.5 (614-710)</text>
<text x="495.6" y="242.89999999999998" font-size="6.8" fill="#231f20" stroke="#231f20" stroke-width="0.14" text-anchor="middle" textLength="9.8" lengthAdjust="spacingAndGlyphs">n/a</text>
<text x="533.4" y="242.89999999999998" font-size="6.8" fill="#231f20" stroke="#231f20" stroke-width="0.14" text-anchor="middle" textLength="9.8" lengthAdjust="spacingAndGlyphs">n/a</text>
<text x="282.0" y="250.29999999999998" font-size="6.8" fill="#231f20" stroke="#231f20" stroke-width="0.14" textLength="85.4" lengthAdjust="spacingAndGlyphs">Mean Follow-up duration, days</text>
<text x="446.6" y="250.29999999999998" font-size="6.8" fill="#231f20" stroke="#231f20" stroke-width="0.14" text-anchor="middle" textLength="43.5" lengthAdjust="spacingAndGlyphs">662.3 (278-732)</text>
<text x="495.6" y="250.29999999999998" font-size="6.8" fill="#231f20" stroke="#231f20" stroke-width="0.14" text-anchor="middle" textLength="43" lengthAdjust="spacingAndGlyphs">574.9 (511-638)</text>
<text x="533.4" y="250.29999999999998" font-size="6.8" fill="#231f20" stroke="#231f20" stroke-width="0.14" text-anchor="middle" textLength="13" lengthAdjust="spacingAndGlyphs">0.16</text>
</svg>
</body></html>
